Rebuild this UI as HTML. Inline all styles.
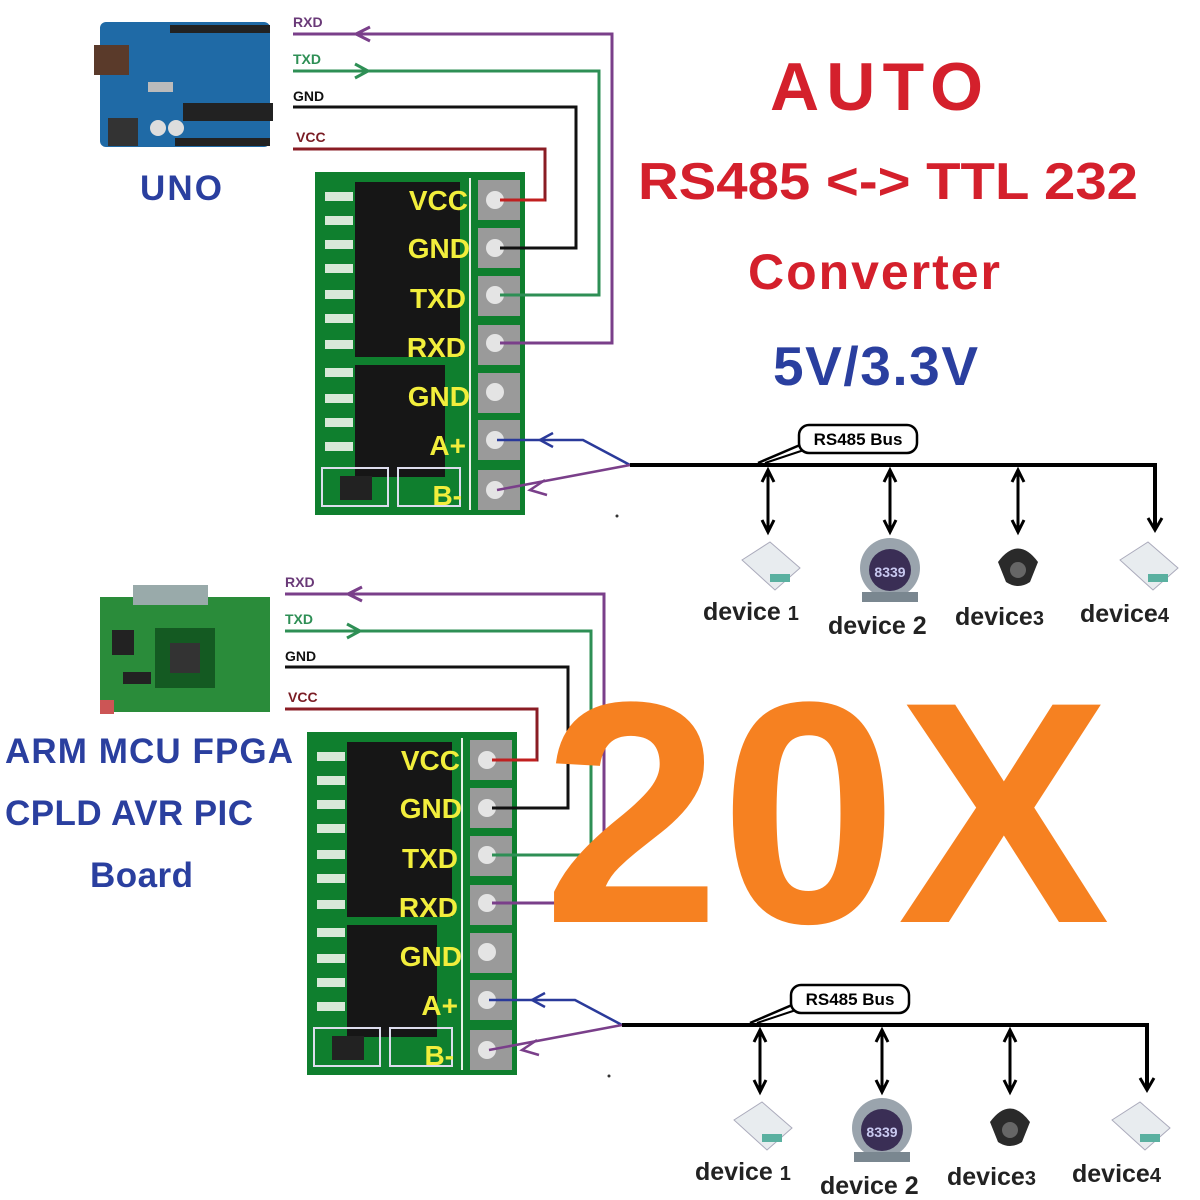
<!DOCTYPE html>
<html><head><meta charset="utf-8"><style>
html,body{margin:0;padding:0;background:#fff;}
svg{display:block;}
text{font-family:"Liberation Sans",sans-serif;font-weight:bold;}
</style></head><body>
<svg width="1200" height="1200" viewBox="0 0 1200 1200" xmlns="http://www.w3.org/2000/svg">

<!-- UNO board -->
<g>
<rect x="100" y="22" width="170" height="125" rx="6" fill="#1f6aa6"/>
<rect x="94" y="45" width="35" height="30" fill="#5a3a2a"/>
<rect x="108" y="118" width="30" height="28" fill="#333"/>
<rect x="183" y="103" width="90" height="18" fill="#222"/>
<rect x="170" y="25" width="100" height="8" fill="#222"/>
<rect x="175" y="138" width="95" height="8" fill="#222"/>
<circle cx="158" cy="128" r="8" fill="#ddd"/><circle cx="176" cy="128" r="8" fill="#ddd"/>
<rect x="148" y="82" width="25" height="10" fill="#bbb"/>
</g>
<text x="140" y="200" font-size="35" fill="#2a3f9f" textLength="82">UNO</text>

<!-- FPGA board -->
<g>
<rect x="100" y="597" width="170" height="115" fill="#2a8c3a"/>
<rect x="133" y="585" width="75" height="20" fill="#9aa"/>
<rect x="155" y="628" width="60" height="60" fill="#145a22"/>
<rect x="170" y="643" width="30" height="30" fill="#333"/>
<rect x="112" y="630" width="22" height="25" fill="#222"/>
<rect x="123" y="672" width="28" height="12" fill="#222"/>
<rect x="100" y="700" width="14" height="14" fill="#c55"/>
</g>
<text x="5" y="763" font-size="35" fill="#2a3f9f" textLength="288">ARM MCU FPGA</text>
<text x="5" y="825" font-size="35" fill="#2a3f9f" textLength="248">CPLD AVR PIC</text>
<text x="90" y="887" font-size="35" fill="#2a3f9f" textLength="103">Board</text>

<!-- Title -->
<text x="770" y="110" font-size="68" fill="#d4202c" textLength="213">AUTO</text>
<text x="638" y="199" font-size="52" fill="#d4202c" textLength="500" lengthAdjust="spacingAndGlyphs">RS485 &lt;-&gt; TTL 232</text>
<text x="748" y="289" font-size="50" fill="#d4202c" textLength="252">Converter</text>
<text x="773" y="385" font-size="55" fill="#2a3f9f" textLength="205">5V/3.3V</text>

<!-- Module copy 1 -->
<g>
  <g fill="none" stroke-width="3">
    <polyline points="293,34 612,34 612,343 500,343" stroke="#7a3f8a"/>
    <polyline points="293,71 599,71 599,295 500,295" stroke="#2e8f55"/>
    <polyline points="293,107 576,107 576,248 500,248" stroke="#111"/>
    <polyline points="293,149 545,149 545,200 500,200" stroke="#8a1c24"/>
  </g>
  <path d="M370,27 L356,34 L370,41" fill="none" stroke="#7a3f8a" stroke-width="3"/>
  <path d="M355,64 L368,71 L355,78" fill="none" stroke="#2e8f55" stroke-width="3"/>
  <text x="293" y="27" font-size="14" fill="#6a3a78">RXD</text>
  <text x="293" y="64" font-size="14" fill="#2e8f55">TXD</text>
  <text x="293" y="101" font-size="14" fill="#111">GND</text>
  <text x="296" y="142" font-size="14" fill="#7a1c24">VCC</text>
  <rect x="315" y="172" width="210" height="343" fill="#0f7f2e"/>
  <rect x="355" y="182" width="105" height="175" fill="#161616"/>
  <rect x="355" y="365" width="90" height="112" fill="#161616"/>
  <g fill="#d8e8d8">
    <rect x="325" y="192" width="28" height="9"/><rect x="325" y="216" width="28" height="9"/>
    <rect x="325" y="240" width="28" height="9"/><rect x="325" y="264" width="28" height="9"/>
    <rect x="325" y="290" width="28" height="9"/><rect x="325" y="314" width="28" height="9"/>
    <rect x="325" y="340" width="28" height="9"/><rect x="325" y="368" width="28" height="9"/>
    <rect x="325" y="394" width="28" height="9"/><rect x="325" y="418" width="28" height="9"/>
    <rect x="325" y="442" width="28" height="9"/>
  </g>
  <rect x="322" y="468" width="66" height="38" fill="none" stroke="#dde" stroke-width="2"/>
  <rect x="398" y="468" width="62" height="38" fill="none" stroke="#dde" stroke-width="2"/>
  <rect x="340" y="476" width="32" height="24" fill="#222"/>
  <line x1="470" y1="178" x2="470" y2="510" stroke="#e8f0e8" stroke-width="2"/>
  <g fill="#9a9a9a">
    <rect x="478" y="180" width="42" height="40"/><rect x="478" y="228" width="42" height="40"/>
    <rect x="478" y="276" width="42" height="40"/><rect x="478" y="325" width="42" height="40"/>
    <rect x="478" y="373" width="42" height="40"/><rect x="478" y="420" width="42" height="40"/>
    <rect x="478" y="470" width="42" height="40"/>
  </g>
  <g fill="#e4e4e4">
    <circle cx="495" cy="200" r="9"/><circle cx="495" cy="248" r="9"/><circle cx="495" cy="295" r="9"/>
    <circle cx="495" cy="343" r="9"/><circle cx="495" cy="392" r="9"/><circle cx="495" cy="440" r="9"/>
    <circle cx="495" cy="490" r="9"/>
  </g>
  <g font-size="28" fill="#f2ee3c" text-anchor="end">
    <text x="468" y="210">VCC</text>
    <text x="470" y="258">GND</text>
    <text x="466" y="308">TXD</text>
    <text x="466" y="357">RXD</text>
    <text x="470" y="406">GND</text>
    <text x="466" y="455">A+</text>
    <text x="462" y="505">B-</text>
  </g>
  <g stroke-width="3">
    <line x1="500" y1="200" x2="545" y2="200" stroke="#c02020"/>
    <line x1="500" y1="248" x2="576" y2="248" stroke="#111"/>
    <line x1="500" y1="295" x2="599" y2="295" stroke="#2e8f55"/>
    <line x1="500" y1="343" x2="612" y2="343" stroke="#7a3f8a"/>
  </g>
  <polyline points="497,440 583,440 630,465" fill="none" stroke="#2a3a9a" stroke-width="2.5"/>
  <polyline points="497,490 630,465" fill="none" stroke="#7a3f8a" stroke-width="2.5"/>
  <path d="M553,433 L540,440 L553,447" fill="none" stroke="#2a3a9a" stroke-width="2.5"/>
  <path d="M545,480 L530,490 L547,495" fill="none" stroke="#7a3f8a" stroke-width="2.5"/>
  <circle cx="617" cy="516" r="1.5" fill="#333"/>
  <polyline points="630,465 1155,465 1155,528" fill="none" stroke="#000" stroke-width="4"/>
  <path d="M1148,518 L1155,530 L1162,518" fill="none" stroke="#000" stroke-width="3"/>
  <g stroke="#000" stroke-width="3" fill="none">
    <line x1="768" y1="472" x2="768" y2="530"/><path d="M762,482 L768,470 L774,482 M762,520 L768,532 L774,520"/>
    <line x1="890" y1="472" x2="890" y2="530"/><path d="M884,482 L890,470 L896,482 M884,520 L890,532 L896,520"/>
    <line x1="1018" y1="472" x2="1018" y2="530"/><path d="M1012,482 L1018,470 L1024,482 M1012,520 L1018,532 L1024,520"/>
  </g>
  <path d="M758,463 L800,445" stroke="#000" stroke-width="2.5" fill="none"/>
  <path d="M765,463 L810,448" stroke="#000" stroke-width="2" fill="none"/>
  <rect x="799" y="425" width="118" height="28" rx="10" fill="#fff" stroke="#000" stroke-width="2.5"/>
  <text x="858" y="445" font-size="17" fill="#000" text-anchor="middle">RS485 Bus</text>
  <g>
    <path d="M742,560 L770,542 L800,568 L775,590 Z" fill="#e8ecef" stroke="#aab" stroke-width="1"/>
    <rect x="770" y="574" width="20" height="8" fill="#5ab0a0"/>
    <circle cx="890" cy="568" r="30" fill="#9aa4ad"/>
    <circle cx="890" cy="570" r="21" fill="#3a2e55"/>
    <text x="890" y="577" font-size="14" fill="#c9c9f0" text-anchor="middle" font-weight="normal">8339</text>
    <rect x="862" y="592" width="56" height="10" fill="#7a8790"/>
    <path d="M998,562 Q1018,535 1038,562 L1030,582 Q1018,590 1006,582 Z" fill="#2a2a2a"/>
    <circle cx="1018" cy="570" r="8" fill="#666"/>
    <path d="M1120,560 L1148,542 L1178,568 L1153,590 Z" fill="#e8ecef" stroke="#aab" stroke-width="1"/>
    <rect x="1148" y="574" width="20" height="8" fill="#5ab0a0"/>
  </g>
  <g font-size="25" fill="#222">
    <text x="703" y="620">device <tspan font-size="20">1</tspan></text>
    <text x="828" y="634">device 2</text>
    <text x="955" y="625">device<tspan font-size="20">3</tspan></text>
    <text x="1080" y="622">device<tspan font-size="20">4</tspan></text>
  </g>
</g>

<!-- Module copy 2 -->
<g transform="translate(-8,560)">
  <g fill="none" stroke-width="3">
    <polyline points="293,34 612,34 612,343 500,343" stroke="#7a3f8a"/>
    <polyline points="293,71 599,71 599,295 500,295" stroke="#2e8f55"/>
    <polyline points="293,107 576,107 576,248 500,248" stroke="#111"/>
    <polyline points="293,149 545,149 545,200 500,200" stroke="#8a1c24"/>
  </g>
  <path d="M370,27 L356,34 L370,41" fill="none" stroke="#7a3f8a" stroke-width="3"/>
  <path d="M355,64 L368,71 L355,78" fill="none" stroke="#2e8f55" stroke-width="3"/>
  <text x="293" y="27" font-size="14" fill="#6a3a78">RXD</text>
  <text x="293" y="64" font-size="14" fill="#2e8f55">TXD</text>
  <text x="293" y="101" font-size="14" fill="#111">GND</text>
  <text x="296" y="142" font-size="14" fill="#7a1c24">VCC</text>
  <rect x="315" y="172" width="210" height="343" fill="#0f7f2e"/>
  <rect x="355" y="182" width="105" height="175" fill="#161616"/>
  <rect x="355" y="365" width="90" height="112" fill="#161616"/>
  <g fill="#d8e8d8">
    <rect x="325" y="192" width="28" height="9"/><rect x="325" y="216" width="28" height="9"/>
    <rect x="325" y="240" width="28" height="9"/><rect x="325" y="264" width="28" height="9"/>
    <rect x="325" y="290" width="28" height="9"/><rect x="325" y="314" width="28" height="9"/>
    <rect x="325" y="340" width="28" height="9"/><rect x="325" y="368" width="28" height="9"/>
    <rect x="325" y="394" width="28" height="9"/><rect x="325" y="418" width="28" height="9"/>
    <rect x="325" y="442" width="28" height="9"/>
  </g>
  <rect x="322" y="468" width="66" height="38" fill="none" stroke="#dde" stroke-width="2"/>
  <rect x="398" y="468" width="62" height="38" fill="none" stroke="#dde" stroke-width="2"/>
  <rect x="340" y="476" width="32" height="24" fill="#222"/>
  <line x1="470" y1="178" x2="470" y2="510" stroke="#e8f0e8" stroke-width="2"/>
  <g fill="#9a9a9a">
    <rect x="478" y="180" width="42" height="40"/><rect x="478" y="228" width="42" height="40"/>
    <rect x="478" y="276" width="42" height="40"/><rect x="478" y="325" width="42" height="40"/>
    <rect x="478" y="373" width="42" height="40"/><rect x="478" y="420" width="42" height="40"/>
    <rect x="478" y="470" width="42" height="40"/>
  </g>
  <g fill="#e4e4e4">
    <circle cx="495" cy="200" r="9"/><circle cx="495" cy="248" r="9"/><circle cx="495" cy="295" r="9"/>
    <circle cx="495" cy="343" r="9"/><circle cx="495" cy="392" r="9"/><circle cx="495" cy="440" r="9"/>
    <circle cx="495" cy="490" r="9"/>
  </g>
  <g font-size="28" fill="#f2ee3c" text-anchor="end">
    <text x="468" y="210">VCC</text>
    <text x="470" y="258">GND</text>
    <text x="466" y="308">TXD</text>
    <text x="466" y="357">RXD</text>
    <text x="470" y="406">GND</text>
    <text x="466" y="455">A+</text>
    <text x="462" y="505">B-</text>
  </g>
  <g stroke-width="3">
    <line x1="500" y1="200" x2="545" y2="200" stroke="#c02020"/>
    <line x1="500" y1="248" x2="576" y2="248" stroke="#111"/>
    <line x1="500" y1="295" x2="599" y2="295" stroke="#2e8f55"/>
    <line x1="500" y1="343" x2="612" y2="343" stroke="#7a3f8a"/>
  </g>
  <polyline points="497,440 583,440 630,465" fill="none" stroke="#2a3a9a" stroke-width="2.5"/>
  <polyline points="497,490 630,465" fill="none" stroke="#7a3f8a" stroke-width="2.5"/>
  <path d="M553,433 L540,440 L553,447" fill="none" stroke="#2a3a9a" stroke-width="2.5"/>
  <path d="M545,480 L530,490 L547,495" fill="none" stroke="#7a3f8a" stroke-width="2.5"/>
  <circle cx="617" cy="516" r="1.5" fill="#333"/>
  <polyline points="630,465 1155,465 1155,528" fill="none" stroke="#000" stroke-width="4"/>
  <path d="M1148,518 L1155,530 L1162,518" fill="none" stroke="#000" stroke-width="3"/>
  <g stroke="#000" stroke-width="3" fill="none">
    <line x1="768" y1="472" x2="768" y2="530"/><path d="M762,482 L768,470 L774,482 M762,520 L768,532 L774,520"/>
    <line x1="890" y1="472" x2="890" y2="530"/><path d="M884,482 L890,470 L896,482 M884,520 L890,532 L896,520"/>
    <line x1="1018" y1="472" x2="1018" y2="530"/><path d="M1012,482 L1018,470 L1024,482 M1012,520 L1018,532 L1024,520"/>
  </g>
  <path d="M758,463 L800,445" stroke="#000" stroke-width="2.5" fill="none"/>
  <path d="M765,463 L810,448" stroke="#000" stroke-width="2" fill="none"/>
  <rect x="799" y="425" width="118" height="28" rx="10" fill="#fff" stroke="#000" stroke-width="2.5"/>
  <text x="858" y="445" font-size="17" fill="#000" text-anchor="middle">RS485 Bus</text>
  <g>
    <path d="M742,560 L770,542 L800,568 L775,590 Z" fill="#e8ecef" stroke="#aab" stroke-width="1"/>
    <rect x="770" y="574" width="20" height="8" fill="#5ab0a0"/>
    <circle cx="890" cy="568" r="30" fill="#9aa4ad"/>
    <circle cx="890" cy="570" r="21" fill="#3a2e55"/>
    <text x="890" y="577" font-size="14" fill="#c9c9f0" text-anchor="middle" font-weight="normal">8339</text>
    <rect x="862" y="592" width="56" height="10" fill="#7a8790"/>
    <path d="M998,562 Q1018,535 1038,562 L1030,582 Q1018,590 1006,582 Z" fill="#2a2a2a"/>
    <circle cx="1018" cy="570" r="8" fill="#666"/>
    <path d="M1120,560 L1148,542 L1178,568 L1153,590 Z" fill="#e8ecef" stroke="#aab" stroke-width="1"/>
    <rect x="1148" y="574" width="20" height="8" fill="#5ab0a0"/>
  </g>
  <g font-size="25" fill="#222">
    <text x="703" y="620">device <tspan font-size="20">1</tspan></text>
    <text x="828" y="634">device 2</text>
    <text x="955" y="625">device<tspan font-size="20">3</tspan></text>
    <text x="1080" y="622">device<tspan font-size="20">4</tspan></text>
  </g>
</g>

<!-- 20X -->
<text x="543" y="922" font-size="316" fill="#f68121" textLength="567" lengthAdjust="spacingAndGlyphs">20X</text>
</svg>
</body></html>
